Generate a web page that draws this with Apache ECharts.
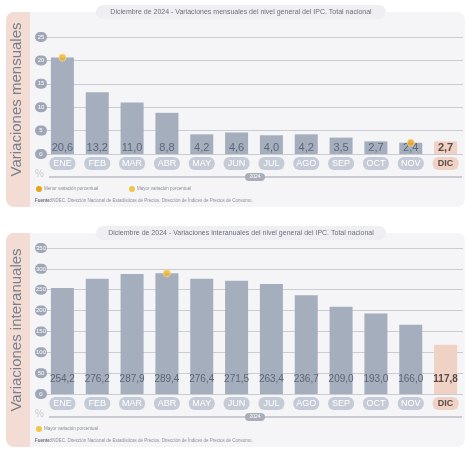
<!DOCTYPE html>
<html><head><meta charset="utf-8">
<script src="https://cdn.jsdelivr.net/npm/echarts@6/dist/echarts.min.js"></script>
<style>html,body{margin:0;padding:0;background:#fff}#c{width:474px;height:455px}</style>
</head><body><div id="c"></div>
<script>
const months = ['ENE','FEB','MAR','ABR','MAY','JUN','JUL','AGO','SEP','OCT','NOV','DIC'];
const mensual = [20.6,13.2,11.0,8.8,4.2,4.6,4.0,4.2,3.5,2.7,2.4,2.7];
const interanual = [254.2,276.2,287.9,289.4,276.4,271.5,263.4,236.7,209.0,193.0,166.0,117.8];
const mensualMayor = [20.6,null,null,null,null,null,null,null,null,null,null,null];
const mensualMenor = [null,null,null,null,null,null,null,null,null,null,2.4,null];
const interMayor = [null,null,null,289.4,null,null,null,null,null,null,null,null];
const titles = ['Diciembre de 2024 - Variaciones mensuales del nivel general del IPC. Total nacional','Diciembre de 2024 - Variaciones interanuales del nivel general del IPC. Total nacional'];
const fuente = 'INDEC. Dirección Nacional de Estadísticas de Precios. Dirección de Índices de Precios de Consumo.';

const F = 'Liberation Sans, Arial, sans-serif';
const barCol = '#a4aebc', dicCol = '#efd2c4';
function barData(arr){return arr.map((v,i)=>({value:v,itemStyle:{color:i===11?dicCol:barCol},
  label:i===11?{color:'#5b4a48',fontWeight:'bold'}:{}}));}
function xAxis(gi){return {type:'category',gridIndex:gi,data:months,axisLine:{show:false},axisTick:{show:false},
  axisLabel:{interval:0,margin:3,fontFamily:F,fontSize:9,formatter:v=>v==='DIC'?'{d|'+v+'}':'{m|'+v+'}',
    rich:{m:{color:'#fff',backgroundColor:'#c5cbd6',borderRadius:6,width:22,height:11,align:'center',padding:[1,2]},
          d:{color:'#5b4a48',fontWeight:'bold',backgroundColor:'#efd2c4',borderRadius:6,width:22,height:11,align:'center',padding:[1,2]}}}};}
function yAxis(gi,max,itv){return {type:'value',gridIndex:gi,min:0,max:max,interval:itv,
  axisLabel:{fontFamily:F,fontSize:6,color:'#fff',backgroundColor:'#9fa6b5',borderRadius:6,padding:[2,2],width:8,align:'center',margin:4},
  splitLine:{lineStyle:{color:'#c9ccd3',width:1}}};}
function panel(y,h,ti,vtitle,legends,ly){
  const g=[
    {type:'rect',shape:{x:6,y:y,width:459,height:h,r:8},style:{fill:'#f5f4f7'},z:-10},
    {type:'rect',shape:{x:6,y:y,width:24,height:h,r:[8,0,0,8]},style:{fill:'#f3dcd3'},z:-9},
    {type:'text',x:17,y:y+h/2-10,rotation:Math.PI/2,style:{text:vtitle,font:'15px '+F,fill:'#7a7f8a',align:'center',verticalAlign:'middle'},z:5},
    {type:'rect',shape:{x:96,y:y-7,width:290,height:14,r:7},style:{fill:'#efeef2'},z:-8},
    {type:'text',x:241,y:y,style:{text:titles[ti],font:'7px '+F,fill:'#6d717c',align:'center',verticalAlign:'middle'},z:5},
    {type:'text',x:35,y:ly-7,style:{text:'%',font:'10px '+F,fill:'#c9ccd4',verticalAlign:'middle'}},
    {type:'line',shape:{x1:49,y1:ly-4,x2:462,y2:ly-4},style:{stroke:'#9da3ae',lineWidth:1}},
    {type:'rect',shape:{x:245,y:ly-8,width:20,height:8,r:4},style:{fill:'#a9aeb9'}},
    {type:'text',x:255,y:ly-4,style:{text:'2024',font:'5px '+F,fill:'#fff',align:'center',verticalAlign:'middle'}},
    {type:'text',x:35,y:ly+20,style:{text:'Fuente:',fontFamily:F,fontSize:4.5,fontWeight:'bold',fill:'#6a6e79',verticalAlign:'middle'}},
    {type:'text',x:51,y:ly+20,style:{text:fuente,fontFamily:F,fontSize:4.5,fill:'#8c8f99',verticalAlign:'middle'}}
  ];
  let lx=36;
  legends.forEach(l=>{
    g.push({type:'circle',shape:{cx:lx+3,cy:ly+8,r:3},style:{fill:l[1]}});
    g.push({type:'text',x:lx+8,y:ly+8,style:{text:l[0],font:'4.5px '+F,fill:'#8c8f99',verticalAlign:'middle'}});
    lx+=93;
  });
  return g;
}
function marker(gi,data,col){return {type:'scatter',xAxisIndex:gi,yAxisIndex:gi,data:data,symbolSize:7,
  itemStyle:{color:col,borderColor:'#f7d98a',borderWidth:1},z:10,silent:true};}
const chart = echarts.init(document.getElementById('c'));
chart.setOption({
  animation:false,
  grid:[{left:45,right:11,top:37,height:117},{left:45,right:11,top:248,height:146}],
  xAxis:[xAxis(0),xAxis(1)],
  yAxis:[yAxis(0,25,5),yAxis(1,350,50)],
  series:[
    {type:'bar',xAxisIndex:0,yAxisIndex:0,barWidth:23,data:barData(mensual),
     label:{show:true,position:'insideBottom',distance:1,fontFamily:F,fontSize:11,color:'#5e6679',formatter:p=>p.value.toFixed(1).replace('.',',')}},
    {type:'bar',xAxisIndex:1,yAxisIndex:1,barWidth:23,data:barData(interanual),
     label:{show:true,position:'insideBottom',distance:10,fontFamily:F,fontSize:10,color:'#5e6679',formatter:p=>p.value.toFixed(1).replace('.',',')}},
    marker(0,mensualMayor,'#f0b429'),
    marker(0,mensualMenor,'#e8a317'),
    marker(1,interMayor,'#f0b429')
  ],
  graphic:[...panel(12,195,0,'Variaciones mensuales',[['Menor variación porcentual','#e8a317'],['Mayor variación porcentual','#f4c34a']],181),
           ...panel(233,214,1,'Variaciones interanuales',[['Mayor variación porcentual','#f4c34a']],421)]
});
</script></body></html>
